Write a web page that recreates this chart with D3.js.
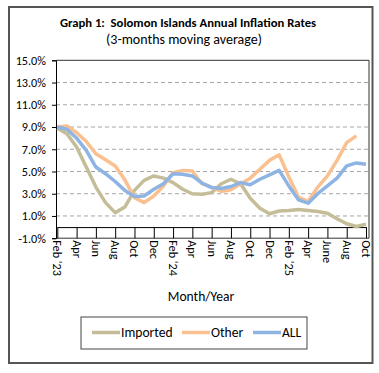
<!DOCTYPE html>
<html>
<head>
<meta charset="utf-8">
<script src="https://cdn.jsdelivr.net/npm/d3@7"></script>
<style>
  body { margin: 0; background: #fff; }
  svg text { font-family: Carlito, Lato, "Open Sans", sans-serif; fill: #000; }
</style>
</head>
<body>
<div id="chart"></div>
<script>
const months = [
    "Feb 23", "Mar 23", "Apr 23", "May 23", "Jun 23", "Jul 23", "Aug 23", "Sep 23", "Oct 23", "Nov 23", "Dec 23",
    "Jan 24", "Feb 24", "Mar 24", "Apr 24", "May 24", "Jun 24", "Jul 24", "Aug 24", "Sep 24", "Oct 24", "Nov 24", "Dec 24",
    "Jan 25", "Feb 25", "Mar 25", "Apr 25", "May 25", "Jun 25", "Jul 25", "Aug 25", "Sep 25", "Oct 25"
];
const tickLabels = ["Feb '23", "Apr", "Jun", "Aug", "Oct", "Dec", "Feb '24", "Apr", "Jun", "Aug", "Oct", "Dec",
    "Feb '25", "Apr", "June", "Aug", "Oct"];

const imported = [8.9, 8.4, 7.2, 5.4, 3.6, 2.2, 1.3, 1.8, 3.3, 4.2, 4.6, 4.4, 4.0, 3.4, 3.0, 2.95, 3.1,
    3.9, 4.3, 3.9, 2.6, 1.7, 1.2, 1.45, 1.5, 1.58, 1.5, 1.4, 1.25, 0.75, 0.3, 0.05, 0.25];
const other = [9.0, 9.1, 8.5, 7.7, 6.6, 6.05, 5.5, 4.25, 2.65, 2.2, 2.8, 3.7, 4.9, 5.1, 5.05, 3.9, 3.6,
    3.2, 3.35, 3.9, 4.4, 5.2, 6.0, 6.5, 4.5, 2.7, 2.3, 3.6, 4.6, 6.0, 7.6, 8.2, null];
const all = [9.0, 8.8, 8.0, 6.9, 5.4, 4.8, 4.1, 3.3, 2.75, 2.8, 3.4, 3.9, 4.8, 4.75, 4.6, 3.95, 3.55,
    3.47, 3.65, 4.0, 3.8, 4.3, 4.7, 5.1, 3.7, 2.45, 2.15, 3.0, 3.7, 4.4, 5.5, 5.77, 5.65];
const yTicks = [-1, 1, 3, 5, 7, 9, 11, 13, 15];

const series = [
    { name: "Imported", values: imported, color: "#c4bd97" },
    { name: "Other", values: other, color: "#fac090" },
    { name: "ALL", values: all, color: "#8eb4e3" }
];

const W = 379, H = 373;
const plot = { left: 56, right: 369, top: 60.3, bottom: 238.2 };
const fontFam = "Carlito, Lato, 'Open Sans', sans-serif";

const svg = d3.select("#chart").append("svg")
    .attr("width", W)
    .attr("height", H);

// outer frame
svg.append("rect")
    .attr("x", 9).attr("y", 7)
    .attr("width", 363.5).attr("height", 356)
    .attr("fill", "none")
    .attr("stroke", "#555")
    .attr("stroke-width", 2);

svg.append("text")
    .attr("x", 188).attr("y", 27)
    .attr("text-anchor", "middle")
    .attr("font-size", 12.7)
    .attr("font-weight", "bold")
    .style("white-space", "pre")
    .text("Graph 1:  Solomon Islands Annual Inflation Rates");

svg.append("text")
    .attr("x", 184).attr("y", 44)
    .attr("text-anchor", "middle")
    .attr("font-size", 14)
    .text("(3-months moving average)");

const x = d3.scalePoint()
    .domain(months)
    .range([57.3, 366]);

const y = d3.scaleLinear()
    .domain([-1, 15])
    .range([plot.bottom, plot.top]);

// dashed gridlines
svg.append("g")
    .selectAll("line")
    .data(yTicks.filter(d => d > -1 && d < 15))
    .join("line")
    .attr("x1", plot.left).attr("x2", plot.right)
    .attr("y1", d => y(d)).attr("y2", d => y(d))
    .attr("stroke", "#a6a6a6")
    .attr("stroke-width", 1)
    .attr("stroke-dasharray", "4,3");

// plot area border (top, right, bottom)
svg.append("path")
    .attr("d", `M${plot.left},${y(15)}H${plot.right}V${y(-1)}H${plot.left}`)
    .attr("fill", "none")
    .attr("stroke", "#333")
    .attr("stroke-width", 1);

// y axis
const yAxis = svg.append("g")
    .attr("transform", `translate(${plot.left},0)`)
    .call(d3.axisLeft(y).tickValues(yTicks).tickSize(4).tickPadding(6)
        .tickFormat(d => d.toFixed(1) + "%"));
yAxis.select(".domain").attr("stroke", "#000");
yAxis.selectAll(".tick line").attr("stroke", "#000");
yAxis.selectAll("text")
    .attr("font-size", 12.2)
    .attr("font-family", fontFam)
    .attr("fill", "#000");

// x axis at 0%
const tickMonths = months.filter((d, i) => i % 2 === 0);
const xAxis = svg.append("g")
    .attr("transform", `translate(0,${y(0)})`)
    .call(d3.axisBottom(x).tickValues(tickMonths).tickSize(y(-1) - y(0)).tickSizeOuter(0)
        .tickFormat((d, i) => tickLabels[i]));
xAxis.select(".domain").attr("stroke", "#000");
xAxis.selectAll(".tick line").attr("stroke", "#000");
xAxis.selectAll("text")
    .attr("font-size", 12.2)
    .attr("font-family", fontFam)
    .attr("fill", "#000")
    .attr("text-anchor", "start")
    .attr("dy", null)
    .attr("dominant-baseline", "central")
    .attr("transform", `translate(0,${y(-1) - y(0) + 1}) rotate(90)`)
    .attr("y", 0)
    .attr("x", 1);

// lines
const line = d3.line()
    .defined(d => d != null)
    .x((d, i) => x(months[i]))
    .y(d => y(d));

svg.append("g")
    .selectAll("path")
    .data(series)
    .join("path")
    .attr("fill", "none")
    .attr("stroke", d => d.color)
    .attr("stroke-width", 3.5)
    .attr("stroke-linejoin", "round")
    .attr("d", d => line(d.values));

svg.append("text")
    .attr("x", 201).attr("y", 301)
    .attr("text-anchor", "middle")
    .attr("font-size", 13.6)
    .text("Month/Year");

// legend
svg.append("rect")
    .attr("x", 81).attr("y", 317)
    .attr("width", 226).attr("height", 32)
    .attr("fill", "none")
    .attr("stroke", "#444")
    .attr("stroke-width", 1);

const legendX = [92, 182, 253];
const legend = svg.append("g")
    .selectAll("g")
    .data(series)
    .join("g")
    .attr("transform", (d, i) => `translate(${legendX[i]},332.5)`);
legend.append("line")
    .attr("x1", 0).attr("x2", 28)
    .attr("stroke", d => d.color)
    .attr("stroke-width", 3.5);
legend.append("text")
    .attr("x", 29)
    .attr("dy", "0.35em")
    .attr("font-size", 13.6)
    .text(d => d.name);
</script>
</body>
</html>
